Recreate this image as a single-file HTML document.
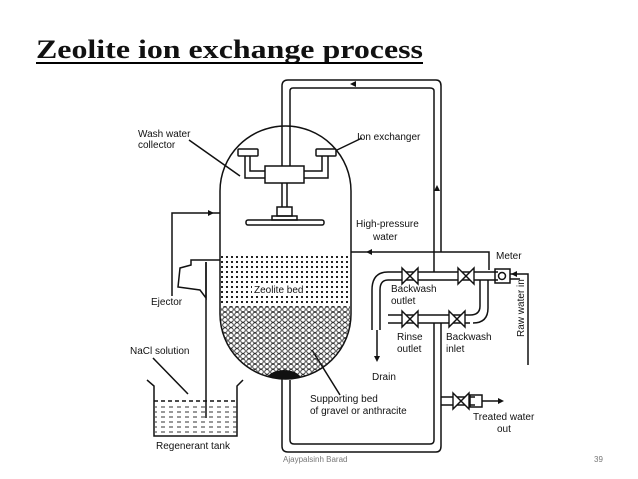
<!DOCTYPE html>
<html><head><meta charset="utf-8"><style>
html,body{margin:0;padding:0;background:#fff;width:638px;height:479px;overflow:hidden}
svg{display:block}
text{font-family:"Liberation Sans",Arial,sans-serif;fill:#111}
</style></head><body>
<svg width="638" height="479" viewBox="0 0 638 479" xmlns="http://www.w3.org/2000/svg">
<defs>
<pattern id="dots" width="5" height="5" patternUnits="userSpaceOnUse"><rect x="1" y="1" width="2" height="2" fill="#222"/></pattern>
<pattern id="circ" width="6" height="5.2" patternUnits="userSpaceOnUse"><circle cx="3" cy="2.6" r="2.3" fill="none" stroke="#222" stroke-width="0.9"/></pattern>
<pattern id="dash" width="8" height="5" patternUnits="userSpaceOnUse"><line x1="1" y1="2" x2="5" y2="2" stroke="#333" stroke-width="1"/></pattern>
<clipPath id="vclip"><path d="M220,191 A65.5,65 0 0 1 351,191 L351,314 A65.5,65 0 0 1 220,314 Z"/></clipPath>
</defs>
<text x="36" y="58" font-weight="bold" font-size="26" textLength="387" lengthAdjust="spacingAndGlyphs" style="font-family:'Liberation Serif',serif">Zeolite ion exchange process</text>
<line x1="36" y1="63" x2="423" y2="63" stroke="#000" stroke-width="2"/>

<g fill="none" stroke="#111" stroke-width="1.5">
<path d="M220,191 A65.5,65 0 0 1 351,191 L351,314 A65.5,65 0 0 1 220,314 Z"/>
<path d="M282,166 L282,86 Q282,80 288,80 L436,80 Q441,80 441,86 L441,252"/>
<path d="M290,166 L290,91 Q290,88 293,88 L430,88 Q434,88 434,91 L434,272"/>
<rect x="265" y="166" width="39" height="17"/>
<path d="M265,171 L250,171 L250,156 M265,178 L245,178 L245,156"/>
<rect x="238" y="149" width="20" height="7" rx="1"/>
<path d="M304,171 L322,171 L322,156 M304,178 L328,178 L328,156"/>
<rect x="316" y="149" width="20" height="7" rx="1"/>
<line x1="282" y1="183" x2="282" y2="207"/><line x1="287" y1="183" x2="287" y2="207"/>
<rect x="277" y="207" width="15" height="9"/>
<rect x="246" y="220" width="78" height="5" rx="2"/>
<rect x="272" y="216" width="25" height="4"/>
<path d="M172,296 L172,213 L220,213"/>
<path d="M220,260 L191,260 L191,265 L180,268 L178,287 L200,290 L206,298 L206,262"/>
<line x1="206" y1="262" x2="206" y2="418"/>
<path d="M351,252 L489,252 L489,270"/>
<path d="M388,272 L498,272 M388,280 L498,280"/>
<rect x="495" y="269" width="15" height="14"/><circle cx="502" cy="276" r="3.5"/>
<path d="M510,274 L528,274 L528,365 M510,279 L520,279"/>
<path d="M388,315 L470,315 M388,323 L470,323"/>
<path d="M488,280 L488,308 Q488,323 473,323 M480,280 L480,306 Q480,315 470,315"/>
<path d="M388,272 Q372,272 372,290 L372,330 M388,280 Q380,280 380,290 L380,330"/>
<line x1="377" y1="330" x2="377" y2="358"/>
<path d="M282,379 L282,446 Q282,452 288,452 L436,452 Q441,452 441,446 L441,323"/>
<path d="M290,380 L290,440 Q290,444 294,444 L430,444 Q434,444 434,440 L434,323"/>
<path d="M441,397 L475,397 M441,405 L475,405"/><rect x="470" y="395" width="12" height="12"/>
<line x1="482" y1="401" x2="500" y2="401"/>
<path d="M147,380 L154,386 L154,436 L237,436 L237,386 L243,380"/>
<line x1="154" y1="401" x2="237" y2="401" stroke-dasharray="4,3"/>
<path d="M189,140 L240,176 M362,138 L337,150 M153,358 L188,394 M340,395 L312,350"/>
</g>
<rect x="155" y="403" width="82" height="33" fill="url(#dash)"/>
<g fill="#fff" stroke="#111" stroke-width="1.4">
<path d="M402,268 L418,284 L418,268 L402,284 Z"/>
<path d="M458,268 L474,284 L474,268 L458,284 Z"/>
<path d="M402,311 L418,327 L418,311 L402,327 Z"/>
<path d="M449,311 L465,327 L465,311 L449,327 Z"/>
<path d="M453,393 L469,409 L469,393 L453,409 Z"/>
</g>
<g clip-path="url(#vclip)">
<rect x="221" y="256" width="129" height="50" fill="url(#dots)"/>
<rect x="221" y="306" width="129" height="75" fill="url(#circ)"/>
<ellipse cx="284" cy="381" rx="18" ry="11" fill="#111"/>
</g>
<rect x="252" y="284" width="52" height="11" fill="#fff"/>
<g fill="#111">
<path d="M214,213 l-6,-3 v6 z"/>
<path d="M366,252 l6,-3 v6 z"/>
<path d="M350,84 l6,-3 v6 z"/>
<path d="M437,185 l-3,6 h6 z"/>
<path d="M377,362 l-3,-6 h6 z"/>
<path d="M504,401 l-6,-3 v6 z"/>
<path d="M511,274 l6,-3 v6 z"/>
</g>
<g font-size="10">
<text x="138" y="137">Wash water</text><text x="138" y="148">collector</text>
<text x="357" y="140">Ion exchanger</text>
<text x="356" y="227">High-pressure</text><text x="373" y="240">water</text>
<text x="496" y="259">Meter</text>
<text x="391" y="292">Backwash</text><text x="391" y="304">outlet</text>
<text x="254" y="293">Zeolite bed</text>
<text x="151" y="305">Ejector</text>
<text x="397" y="340">Rinse</text><text x="397" y="352">outlet</text>
<text x="446" y="340">Backwash</text><text x="446" y="352">inlet</text>
<text x="372" y="380">Drain</text>
<text x="130" y="354">NaCl solution</text>
<text x="310" y="402">Supporting bed</text><text x="310" y="414">of gravel or anthracite</text>
<text x="473" y="420">Treated water</text><text x="497" y="432">out</text>
<text x="156" y="449">Regenerant tank</text>
<text transform="translate(524,337) rotate(-90)">Raw water in</text>
</g>
<text x="283" y="462" font-size="8" style="fill:#777">Ajaypalsinh Barad</text>
<text x="594" y="462" font-size="8" style="fill:#777">39</text>
</svg>
</body></html>
